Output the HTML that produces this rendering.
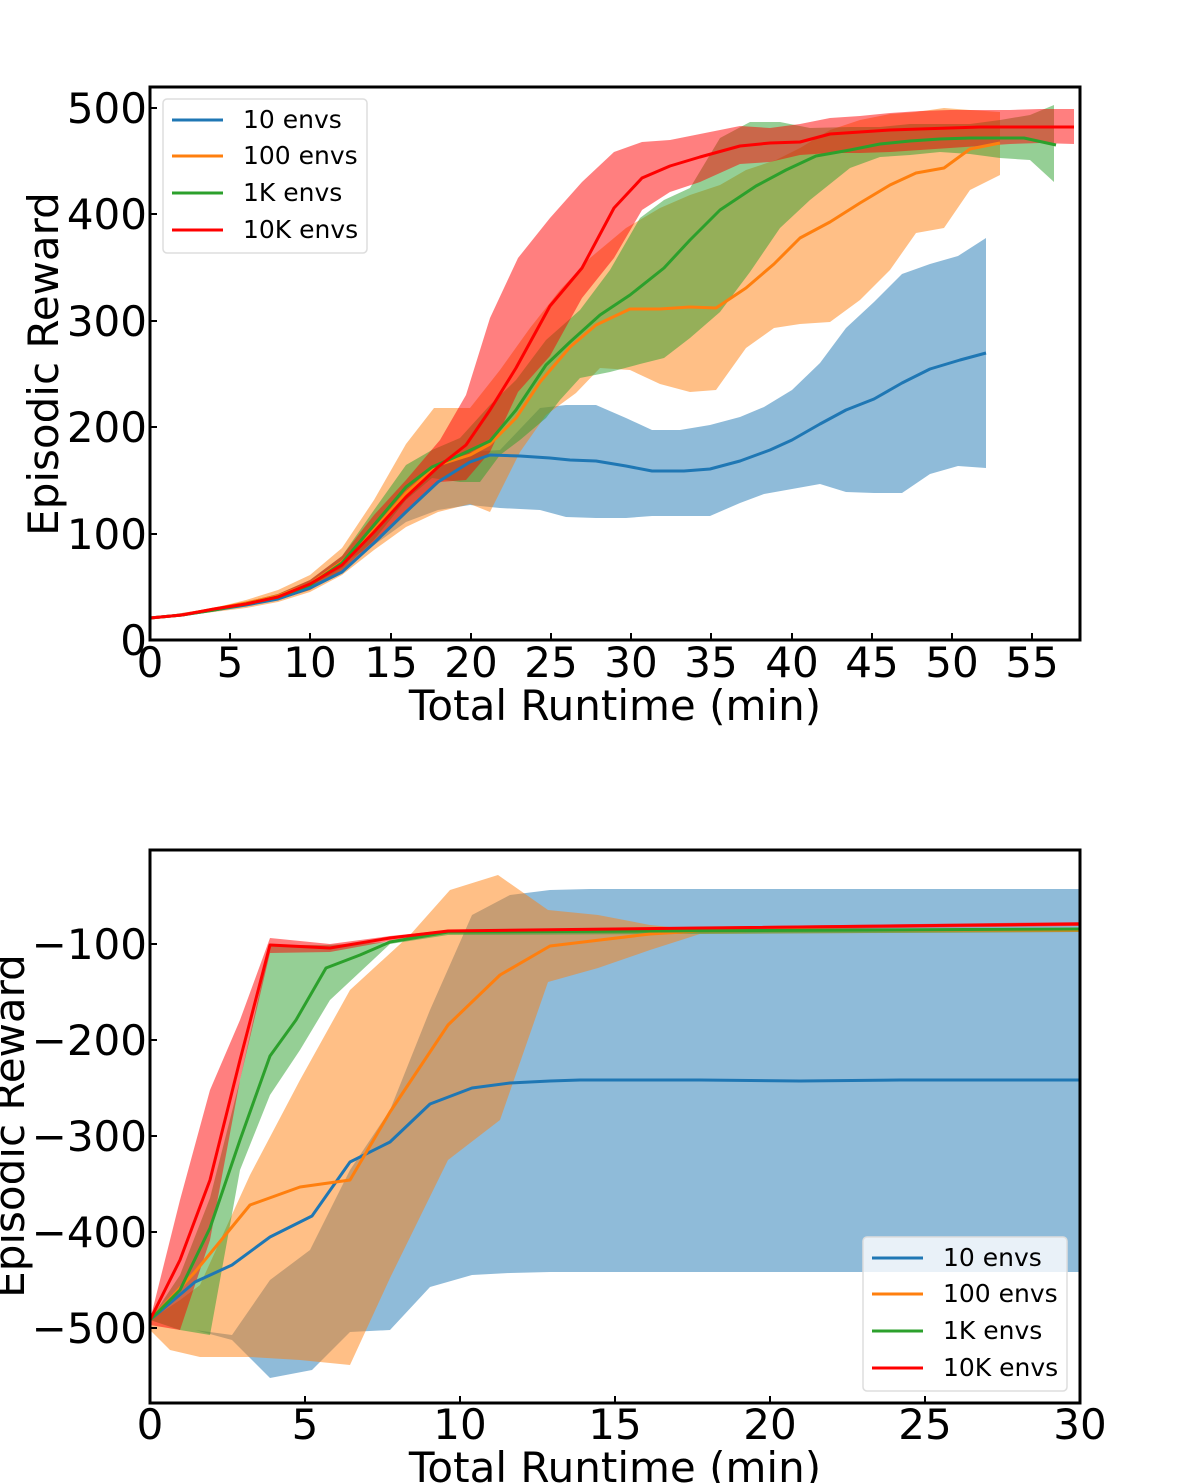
<!DOCTYPE html>
<html><head><meta charset="utf-8"><style>
html,body{margin:0;padding:0;background:#fff;}
svg{display:block;font-family:"DejaVu Sans","Liberation Sans",sans-serif;}
</style></head><body>
<svg width="1200" height="1483" viewBox="0 0 1200 1483" xmlns="http://www.w3.org/2000/svg">
<rect width="1200" height="1483" fill="#fff"/>
<!-- TOP PLOT -->
<g stroke="none">
<polygon fill="#1f77b4" fill-opacity="0.5" points="150,618 182,615 214,610 246,604 278,598 310,586 342,568 374,533 406,498 438,465 470,452 500,450 540,408 566,405 596,405 626,418 652,430 680,430 710,425 740,417 764,407 792,390 820,363 846,328 874,302 902,274 930,264 958,256 986,238 986,468 958,466 930,474 902,493 874,493 846,492 820,484 792,489 764,494 740,503 710,516 680,516 652,516 626,518 596,518 566,517 540,510 500,508 470,505 438,510 406,522 374,545 342,563 310,585 278,600 246,606 214,611 182,616 150,618"/>
<polygon fill="#ff7f0e" fill-opacity="0.5" points="150,618 214,608 246,600 278,590 310,575 342,548 374,500 406,444 434,408 470,408 500,370 530,328 560,290 590,258 626,228 660,208 690,195 720,185 746,170 776,160 800,148 830,130 860,120 890,114 916,112 944,108 970,110 1000,112 1000,175 970,190 944,228 916,233 890,270 860,300 830,322 800,324 774,328 746,348 716,390 690,392 660,384 630,370 600,368 576,393 546,415 520,452 490,512 470,504 438,512 406,527 374,550 342,575 310,592 278,602 246,608 214,612 182,616 150,618"/>
<polygon fill="#2ca02c" fill-opacity="0.5" points="150,618 214,609 246,602 278,594 310,580 342,556 374,510 406,465 432,450 460,438 490,405 516,380 546,340 580,310 610,270 640,218 664,200 690,188 720,138 750,122 780,122 810,128 850,127 880,127 910,124 940,124 970,124 1000,120 1030,115 1054,105 1054,182 1030,160 1000,158 970,154 940,152 910,155 880,157 850,168 810,200 780,228 750,272 720,312 690,338 664,358 640,364 610,372 580,378 560,400 546,418 520,440 500,455 480,482 460,482 432,478 406,500 374,540 342,570 310,590 278,600 246,606 214,611 150,618"/>
<polygon fill="#ff0000" fill-opacity="0.5" points="150,618 214,608 246,602 278,594 310,580 342,556 374,515 406,480 440,440 466,395 490,318 518,258 550,218 582,182 614,152 642,142 670,140 700,134 740,126 770,128 800,124 830,118 860,116 890,113 920,111 950,110 980,110 1010,110 1040,109 1074,109 1074,144 1040,143 1010,144 980,146 950,148 920,150 890,152 860,153 830,153 800,155 770,162 740,164 700,182 670,192 642,210 614,258 582,298 550,356 518,392 490,452 466,480 440,482 406,512 374,545 342,572 310,590 278,600 246,606 214,611 150,618"/>
</g>
<g fill="none" stroke-width="3" stroke-linejoin="round">
<polyline stroke="#1f77b4" points="150,618 182,615 214,610 246,605 278,599 310,588 342,572 374,543 406,512 438,482 470,462 490,455 520,456 550,458 570,460 596,461 626,466 652,471 684,471 710,469 740,461 770,450 792,440 820,424 846,410 874,399 902,383 930,369 960,360 986,353"/>
<polyline stroke="#ff7f0e" points="150,618 182,615 214,609 246,603 278,596 310,584 342,562 374,530 406,493 438,465 470,455 490,444 516,418 540,382 570,347 596,325 630,309 660,309 690,307 716,308 746,288 774,264 800,238 830,222 860,203 890,185 916,173 944,168 970,149 1000,143"/>
<polyline stroke="#2ca02c" points="150,618 182,615 214,610 246,604 278,597 310,585 342,563 374,525 406,487 432,467 460,455 490,441 516,410 546,365 570,342 600,315 630,295 664,268 690,240 720,210 756,186 786,170 816,156 850,150 880,144 910,141 940,139 970,138 1000,138 1024,138 1056,145"/>
<polyline stroke="#ff0000" points="150,618 182,615 214,609 246,604 278,597 310,584 342,565 374,532 406,497 438,467 466,445 490,410 516,368 550,306 582,268 614,208 642,178 670,166 700,157 740,146 770,143 800,142 830,134 860,132 890,130 920,129 950,128 980,127 1010,127 1040,127 1074,127"/>
</g>
<rect x="150" y="87" width="930" height="553" fill="none" stroke="#000" stroke-width="3"/>
<g stroke="#000" stroke-width="2">
<line x1="150" y1="640" x2="157" y2="640"/><line x1="150" y1="534" x2="157" y2="534"/><line x1="150" y1="427" x2="157" y2="427"/><line x1="150" y1="321" x2="157" y2="321"/><line x1="150" y1="214" x2="157" y2="214"/><line x1="150" y1="108" x2="157" y2="108"/>
<line x1="150" y1="640" x2="150" y2="633"/><line x1="230" y1="640" x2="230" y2="633"/><line x1="310" y1="640" x2="310" y2="633"/><line x1="391" y1="640" x2="391" y2="633"/><line x1="471" y1="640" x2="471" y2="633"/><line x1="551" y1="640" x2="551" y2="633"/><line x1="631" y1="640" x2="631" y2="633"/><line x1="711" y1="640" x2="711" y2="633"/><line x1="792" y1="640" x2="792" y2="633"/><line x1="872" y1="640" x2="872" y2="633"/><line x1="952" y1="640" x2="952" y2="633"/><line x1="1032" y1="640" x2="1032" y2="633"/>
</g>
<g font-size="42" fill="#000" text-anchor="end">
<text x="147" y="655">0</text><text x="147" y="549">100</text><text x="147" y="442">200</text><text x="147" y="336">300</text><text x="147" y="229">400</text><text x="147" y="123">500</text>
</g>
<g font-size="42" fill="#000" text-anchor="middle">
<text x="150" y="677">0</text><text x="230" y="677">5</text><text x="310" y="677">10</text><text x="391" y="677">15</text><text x="471" y="677">20</text><text x="551" y="677">25</text><text x="631" y="677">30</text><text x="711" y="677">35</text><text x="792" y="677">40</text><text x="872" y="677">45</text><text x="952" y="677">50</text><text x="1032" y="677">55</text>
<text x="615" y="720">Total Runtime (min)</text>
<text transform="translate(58,364) rotate(-90)">Episodic Reward</text>
</g>
<rect x="163" y="99" width="204" height="154" rx="4" fill="#fff" fill-opacity="0.8" stroke="#ddd" stroke-width="1.5"/>
<g stroke-width="3"><line x1="172" y1="120" x2="223" y2="120" stroke="#1f77b4"/><line x1="172" y1="156" x2="223" y2="156" stroke="#ff7f0e"/><line x1="172" y1="193" x2="223" y2="193" stroke="#2ca02c"/><line x1="172" y1="230" x2="223" y2="230" stroke="#ff0000"/></g>
<g font-size="25" fill="#000"><text x="243" y="128">10 envs</text><text x="243" y="164">100 envs</text><text x="243" y="201">1K envs</text><text x="243" y="238">10K envs</text></g>

<!-- BOTTOM PLOT -->
<g stroke="none">
<polygon fill="#1f77b4" fill-opacity="0.5" points="150,1330 195,1330 232,1335 270,1280 310,1250 350,1170 390,1110 430,1010 472,915 510,895 550,890 590,889 700,889 900,889 1080,889 1080,1272 900,1272 700,1272 550,1272 510,1273 472,1275 430,1287 390,1330 350,1332 312,1370 270,1378 232,1340 195,1330 150,1330"/>
<polygon fill="#ff7f0e" fill-opacity="0.5" points="150,1320 180,1300 200,1285 250,1175 300,1080 350,990 410,935 450,890 498,875 548,910 598,915 650,925 700,930 1080,930 1080,932 700,934 650,950 598,968 548,982 500,1120 448,1160 390,1278 350,1365 300,1360 250,1357 200,1357 170,1350 150,1330"/>
<polygon fill="#2ca02c" fill-opacity="0.5" points="150,1320 180,1275 210,1198 240,1080 270,945 326,945 390,942 448,932 1080,930 1080,932 448,935 390,944 330,1000 300,1050 270,1095 240,1170 210,1335 180,1330 150,1320"/>
<polygon fill="#ff0000" fill-opacity="0.5" points="150,1320 180,1200 210,1090 240,1020 270,938 330,944 390,936 448,930 1080,922 1080,926 448,933 390,941 330,952 270,953 240,1080 210,1240 180,1330 150,1325"/>
</g>
<g fill="none" stroke-width="3" stroke-linejoin="round">
<polyline stroke="#1f77b4" points="150,1320 195,1282 232,1265 270,1237 312,1216 350,1162 390,1142 430,1104 472,1088 510,1083 550,1081 580,1080 700,1080 800,1081 900,1080 1080,1080"/>
<polyline stroke="#ff7f0e" points="150,1320 195,1272 250,1205 300,1187 350,1180 390,1112 448,1025 500,975 550,946 600,940 650,934 700,931 800,930 1080,930"/>
<polyline stroke="#2ca02c" points="150,1320 180,1290 210,1228 240,1140 270,1056 296,1020 326,968 360,955 390,942 448,932 1080,929"/>
<polyline stroke="#ff0000" points="150,1320 180,1260 210,1180 240,1060 270,945 330,948 390,938 448,931 700,928 1080,924"/>
</g>
<rect x="150" y="850" width="930" height="553" fill="none" stroke="#000" stroke-width="3"/>
<g stroke="#000" stroke-width="2">
<line x1="150" y1="944" x2="157" y2="944"/><line x1="150" y1="1040" x2="157" y2="1040"/><line x1="150" y1="1136" x2="157" y2="1136"/><line x1="150" y1="1232" x2="157" y2="1232"/><line x1="150" y1="1328" x2="157" y2="1328"/>
<line x1="305" y1="1403" x2="305" y2="1396"/><line x1="460" y1="1403" x2="460" y2="1396"/><line x1="615" y1="1403" x2="615" y2="1396"/><line x1="770" y1="1403" x2="770" y2="1396"/><line x1="925" y1="1403" x2="925" y2="1396"/>
</g>
<g font-size="42" fill="#000" text-anchor="end">
<text x="147" y="959">−100</text><text x="147" y="1055">−200</text><text x="147" y="1151">−300</text><text x="147" y="1247">−400</text><text x="147" y="1343">−500</text>
</g>
<g font-size="42" fill="#000" text-anchor="middle">
<text x="150" y="1439">0</text><text x="305" y="1439">5</text><text x="460" y="1439">10</text><text x="615" y="1439">15</text><text x="770" y="1439">20</text><text x="925" y="1439">25</text><text x="1080" y="1439">30</text>
<text x="615" y="1482">Total Runtime (min)</text>
<text transform="translate(24,1126) rotate(-90)">Episodic Reward</text>
</g>
<rect x="863" y="1237" width="204" height="154" rx="4" fill="#fff" fill-opacity="0.8" stroke="#ddd" stroke-width="1.5"/>
<g stroke-width="3"><line x1="872" y1="1258" x2="923" y2="1258" stroke="#1f77b4"/><line x1="872" y1="1294" x2="923" y2="1294" stroke="#ff7f0e"/><line x1="872" y1="1331" x2="923" y2="1331" stroke="#2ca02c"/><line x1="872" y1="1368" x2="923" y2="1368" stroke="#ff0000"/></g>
<g font-size="25" fill="#000"><text x="943" y="1266">10 envs</text><text x="943" y="1302">100 envs</text><text x="943" y="1339">1K envs</text><text x="943" y="1376">10K envs</text></g>
</svg>
</body></html>
